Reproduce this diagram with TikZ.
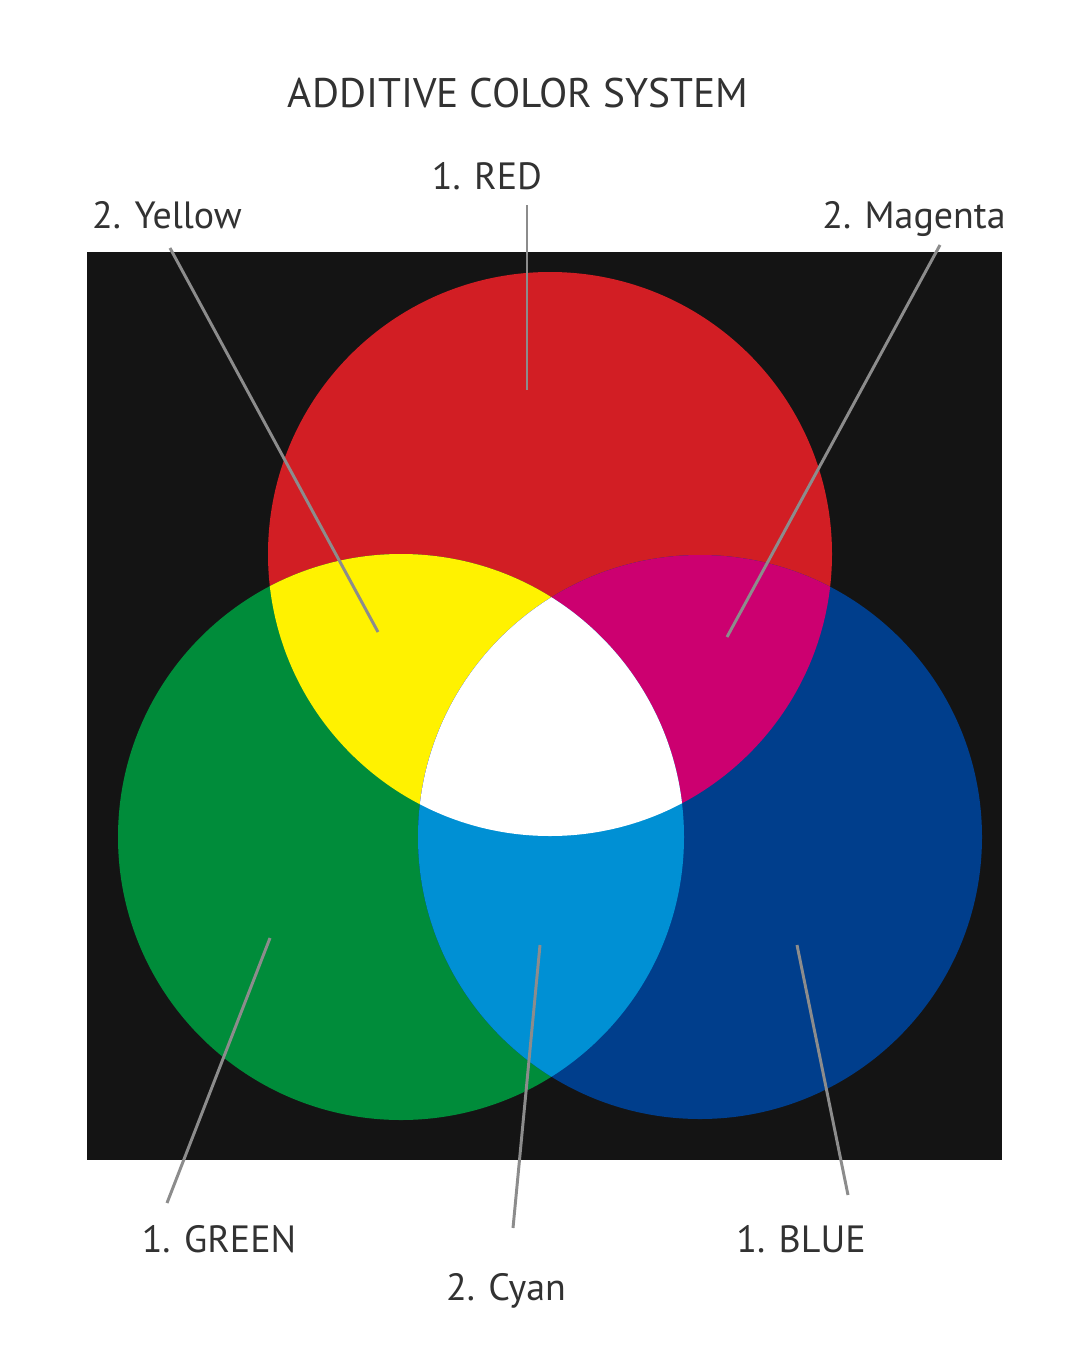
\documentclass[tikz,border=0pt]{standalone}
\usepackage{fontspec}
\setmainfont{PT Sans}
\definecolor{bgblack}{RGB}{20,20,20}
\definecolor{cred}{RGB}{210,30,36}
\definecolor{cgreen}{RGB}{0,140,58}
\definecolor{cblue}{RGB}{0,62,140}
\definecolor{cyellow}{RGB}{255,242,0}
\definecolor{cmagenta}{RGB}{204,0,112}
\definecolor{ccyan}{RGB}{0,144,212}
\definecolor{leadgray}{RGB}{140,140,140}
\definecolor{txtgray}{RGB}{50,50,50}
\tikzset{
  lbl/.style={anchor=base, inner sep=0pt, text=txtgray, font=\fontsize{27}{30}\selectfont},
  ttl/.style={anchor=base, inner sep=0pt, text=txtgray, font=\fontsize{29.4}{32}\selectfont},
  leader/.style={draw=leadgray, line width=2.1pt},
}
\begin{document}
\begin{tikzpicture}[x=0.025cm, y=-0.025cm]
\useasboundingbox (0,0) rectangle (1080,1361);
\fill[white] (0,0) rectangle (1080,1361);
\fill[bgblack] (87,252) rectangle (1002,1160);
% circles
\def\R{(550,554) circle[radius=282]}
\def\G{(401,837) circle[radius=283]}
\def\B{(700,837) circle[radius=282]}
\fill[cred] \R;
\fill[cgreen] \G;
\fill[cblue] \B;
\begin{scope}\clip \R; \fill[cyellow] \G; \end{scope}
\begin{scope}\clip \R; \fill[cmagenta] \B; \end{scope}
\begin{scope}\clip \G; \fill[ccyan] \B; \end{scope}
\begin{scope}\clip \R; \clip \G; \fill[white] \B; \end{scope}
% labels
\node[ttl] (title) at (518,107) {ADDITIVE COLOR SYSTEM};
\node[lbl] (red) at (487,189) {1. RED};
\node[lbl] (yellow) at (167,228) {2. Yellow};
\node[lbl] (magenta) at (914,228) {2. Magenta};
\node[lbl] (green) at (219,1252) {1. GREEN};
\node[lbl] (blue) at (801,1252) {1. BLUE};
\node[lbl] (cyan) at (506,1300) {2. Cyan};
% leader end points
\coordinate (redA) at (527,205);  \coordinate (redB) at (527,390);
\coordinate (yelA) at (170,248);  \coordinate (yelB) at (378,632);
\coordinate (magA) at (940,245);  \coordinate (magB) at (727,637);
\coordinate (grnA) at (167,1203); \coordinate (grnB) at (270,938);
\coordinate (cyaA) at (513,1228); \coordinate (cyaB) at (540,945);
\coordinate (bluA) at (848,1195); \coordinate (bluB) at (797,945);
\draw[leader] (redA) -- (redB);
\draw[leader] (yelA) -- (yelB);
\draw[leader] (magA) -- (magB);
\draw[leader] (grnA) -- (grnB);
\draw[leader] (cyaA) -- (cyaB);
\draw[leader] (bluA) -- (bluB);
\end{tikzpicture}
\end{document}
